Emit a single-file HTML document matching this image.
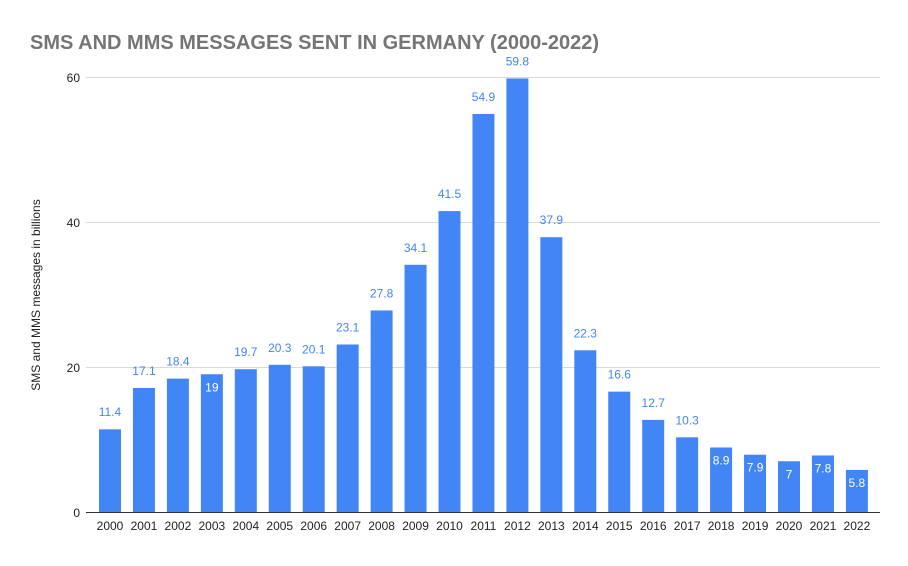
<!DOCTYPE html>
<html><head><meta charset="utf-8"><style>
body{margin:0;background:#fff;}
</style></head><body>
<svg width="908" height="561" xmlns="http://www.w3.org/2000/svg" font-family="Liberation Sans, Arial, sans-serif">
<rect width="908" height="561" fill="#fff"/>
<text x="30" y="49" font-size="20" font-weight="bold" fill="#757575">SMS AND MMS MESSAGES SENT IN GERMANY (2000-2022)</text>
<g stroke="#d9d9d9" stroke-width="1">
<line x1="86" x2="880" y1="77.5" y2="77.5"/>
<line x1="86" x2="880" y1="222.5" y2="222.5"/>
<line x1="86" x2="880" y1="367.5" y2="367.5"/>
</g>
<g font-size="12" fill="#222" text-anchor="end">
<text x="80" y="82">60</text>
<text x="80" y="227">40</text>
<text x="80" y="372">20</text>
<text x="80" y="517">0</text>
</g>
<text transform="translate(40,295) rotate(-90)" font-size="12" fill="#222" text-anchor="middle">SMS and MMS messages in billions</text>
<g fill="#4285f4">
<rect x="99" y="429.35" width="22" height="82.65"/>
<rect x="132.95" y="388" width="22" height="124"/>
<rect x="166.9" y="378.6" width="22" height="133.4"/>
<rect x="200.85" y="374.25" width="22" height="137.75"/>
<rect x="234.8" y="369.2" width="22" height="142.8"/>
<rect x="268.75" y="364.8" width="22" height="147.2"/>
<rect x="302.7" y="366.3" width="22" height="145.7"/>
<rect x="336.65" y="344.5" width="22" height="167.5"/>
<rect x="370.6" y="310.45" width="22" height="201.55"/>
<rect x="404.55" y="264.8" width="22" height="247.2"/>
<rect x="438.5" y="211.1" width="22" height="300.9"/>
<rect x="472.45" y="114" width="22" height="398"/>
<rect x="506.4" y="78.45" width="22" height="433.55"/>
<rect x="540.35" y="237.2" width="22" height="274.8"/>
<rect x="574.3" y="350.3" width="22" height="161.7"/>
<rect x="608.25" y="391.65" width="22" height="120.35"/>
<rect x="642.2" y="419.9" width="22" height="92.1"/>
<rect x="676.15" y="437.3" width="22" height="74.7"/>
<rect x="710.1" y="447.5" width="22" height="64.5"/>
<rect x="744.05" y="454.7" width="22" height="57.3"/>
<rect x="778" y="461.25" width="22" height="50.75"/>
<rect x="811.95" y="455.45" width="22" height="56.55"/>
<rect x="845.9" y="469.95" width="22" height="42.05"/>
</g>
<line x1="86" x2="880" y1="512.5" y2="512.5" stroke="#333" stroke-width="1"/>
<g font-size="12" fill="#4285f4" text-anchor="middle">
<text x="110" y="416">11.4</text>
<text x="143.95" y="375">17.1</text>
<text x="177.9" y="365.6">18.4</text>
<text x="245.8" y="356.2">19.7</text>
<text x="279.75" y="351.8">20.3</text>
<text x="313.7" y="353.3">20.1</text>
<text x="347.65" y="331.5">23.1</text>
<text x="381.6" y="297.45">27.8</text>
<text x="415.55" y="251.8">34.1</text>
<text x="449.5" y="198.1">41.5</text>
<text x="483.45" y="101">54.9</text>
<text x="517.4" y="65.45">59.8</text>
<text x="551.35" y="224.2">37.9</text>
<text x="585.3" y="337.3">22.3</text>
<text x="619.25" y="378.65">16.6</text>
<text x="653.2" y="406.9">12.7</text>
<text x="687.15" y="424.3">10.3</text>
</g>
<g font-size="12" fill="#fff" text-anchor="middle">
<text x="211.85" y="391.25">19</text>
<text x="721.1" y="464.5">8.9</text>
<text x="755.05" y="471.7">7.9</text>
<text x="789" y="478.25">7</text>
<text x="822.95" y="472.45">7.8</text>
<text x="856.9" y="486.95">5.8</text>
</g>
<g font-size="12" fill="#222" text-anchor="middle">
<text x="110" y="530">2000</text>
<text x="143.95" y="530">2001</text>
<text x="177.9" y="530">2002</text>
<text x="211.85" y="530">2003</text>
<text x="245.8" y="530">2004</text>
<text x="279.75" y="530">2005</text>
<text x="313.7" y="530">2006</text>
<text x="347.65" y="530">2007</text>
<text x="381.6" y="530">2008</text>
<text x="415.55" y="530">2009</text>
<text x="449.5" y="530">2010</text>
<text x="483.45" y="530">2011</text>
<text x="517.4" y="530">2012</text>
<text x="551.35" y="530">2013</text>
<text x="585.3" y="530">2014</text>
<text x="619.25" y="530">2015</text>
<text x="653.2" y="530">2016</text>
<text x="687.15" y="530">2017</text>
<text x="721.1" y="530">2018</text>
<text x="755.05" y="530">2019</text>
<text x="789" y="530">2020</text>
<text x="822.95" y="530">2021</text>
<text x="856.9" y="530">2022</text>
</g>
</svg>
</body></html>
